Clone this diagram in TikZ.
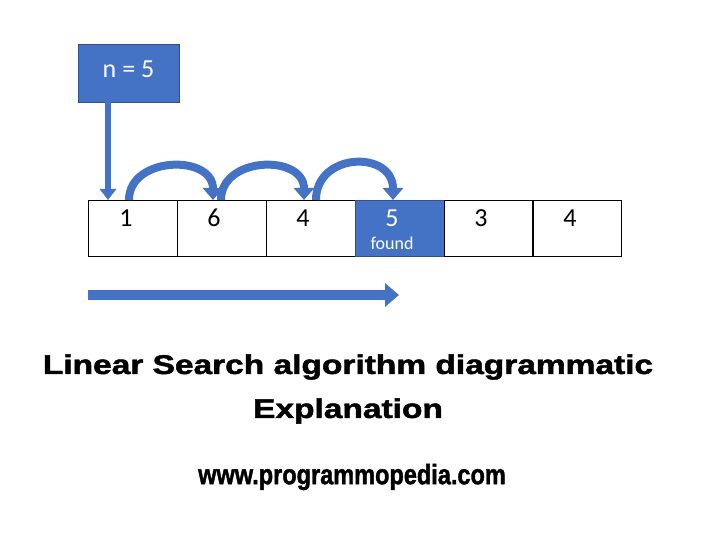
\documentclass[tikz,border=0pt]{standalone}
\usepackage{fontspec}
\setmainfont{Carlito}
\newfontfamily\titlefont{Liberation Sans}[BoldFeatures={FakeBold=1.6}]
\usetikzlibrary{arrows.meta}
\definecolor{ablue}{HTML}{4472C4}
\definecolor{dblue}{HTML}{2F528F}
\tikzset{
  cell/.style={draw=black, line width=0.8pt, minimum width=89pt, minimum height=56pt, inner sep=0pt, anchor=north west},
  cellnum/.style={font=\fontsize{26}{28}\selectfont, anchor=base},
  bluebox/.style={draw=dblue, fill=ablue, line width=0.8pt},
  hop/.style={draw=ablue, line width=8pt, -{Triangle[width=20pt,length=12pt,fill=ablue]}},
  hopedge/.style={draw=dblue, line width=2pt},
  shaft/.style={draw=ablue, -{Triangle[fill=ablue]}},
}
\begin{document}
\begin{tikzpicture}[x=1pt,y=-1pt]
\useasboundingbox (0,0) rectangle (706,545);
\fill[white] (0,0) rectangle (706,545);
% n = 5 box
\node[bluebox, minimum width=101pt, minimum height=58pt, anchor=north west, inner sep=0pt] (n) at (78,44) {};
\node[text=white, font=\fontsize{26}{28}\selectfont, anchor=base] (nt) at (128.5,78) {n = 5};
% array cells
\node[cell] (c1) at (88,200) {};
\node[cell] (c2) at (177,200) {};
\node[cell] (c3) at (266,200) {};
\node[cell, bluebox] (c4) at (355,200) {};
\node[cell] (c5) at (444,200) {};
\node[cell] (c6) at (532,200) {};
\node[cellnum] (t1) at (126,227) {1};
\node[cellnum] (t2) at (214,227) {6};
\node[cellnum] (t3) at (303,227) {4};
\node[cellnum, text=white] (t4) at (392,227) {5};
\node[cellnum] (t5) at (481,227) {3};
\node[cellnum] (t6) at (570,227) {4};
\node[text=white, font=\fontsize{18}{19}\selectfont, anchor=base] (fd) at (392,250) {found};
% vertical arrow
\coordinate (vs) at (108,102);
\coordinate (ve) at (108,200);
\draw[shaft, line width=6pt, -{Triangle[width=16pt,length=11pt,fill=ablue]}] (vs) -- (ve);
% hops
\coordinate (h1s) at ([xshift=41pt]c1.north west);
\coordinate (h1e) at ([xshift=36pt]c2.north west);
\coordinate (h2s) at ([xshift=44pt]c2.north west);
\coordinate (h2e) at ([xshift=38pt]c3.north west);
\coordinate (h3s) at ([xshift=50pt]c3.north west);
\coordinate (h3e) at ([xshift=38pt]c4.north west);
\draw[hop] (h1s) .. controls ([yshift=44pt]h1s) and ([yshift=46pt]h1e) .. (h1e);
\draw[hop] (h2s) .. controls ([yshift=44pt]h2s) and ([yshift=46pt]h2e) .. (h2e);
\draw[hop] (h3s) .. controls ([yshift=48pt]h3s) and ([yshift=50pt]h3e) .. (h3e);
% horizontal arrow
\coordinate (hs) at (88,295);
\coordinate (he) at (399,295);
\draw[shaft, line width=10pt, -{Triangle[width=23pt,length=14pt,fill=ablue]}] (hs) -- (he);
% title
\node[font=\titlefont\bfseries\fontsize{27}{30}\selectfont, align=center] (title) at (348,389) {\scalebox{1.24}[1]{Linear Search algorithm diagrammatic}\\[14pt]\scalebox{1.24}[1]{Explanation}};
\node[font=\titlefont\bfseries\fontsize{28}{30}\selectfont] (url) at (352,477) {\scalebox{0.84}[1]{www.programmopedia.com}};
\end{tikzpicture}
\end{document}
